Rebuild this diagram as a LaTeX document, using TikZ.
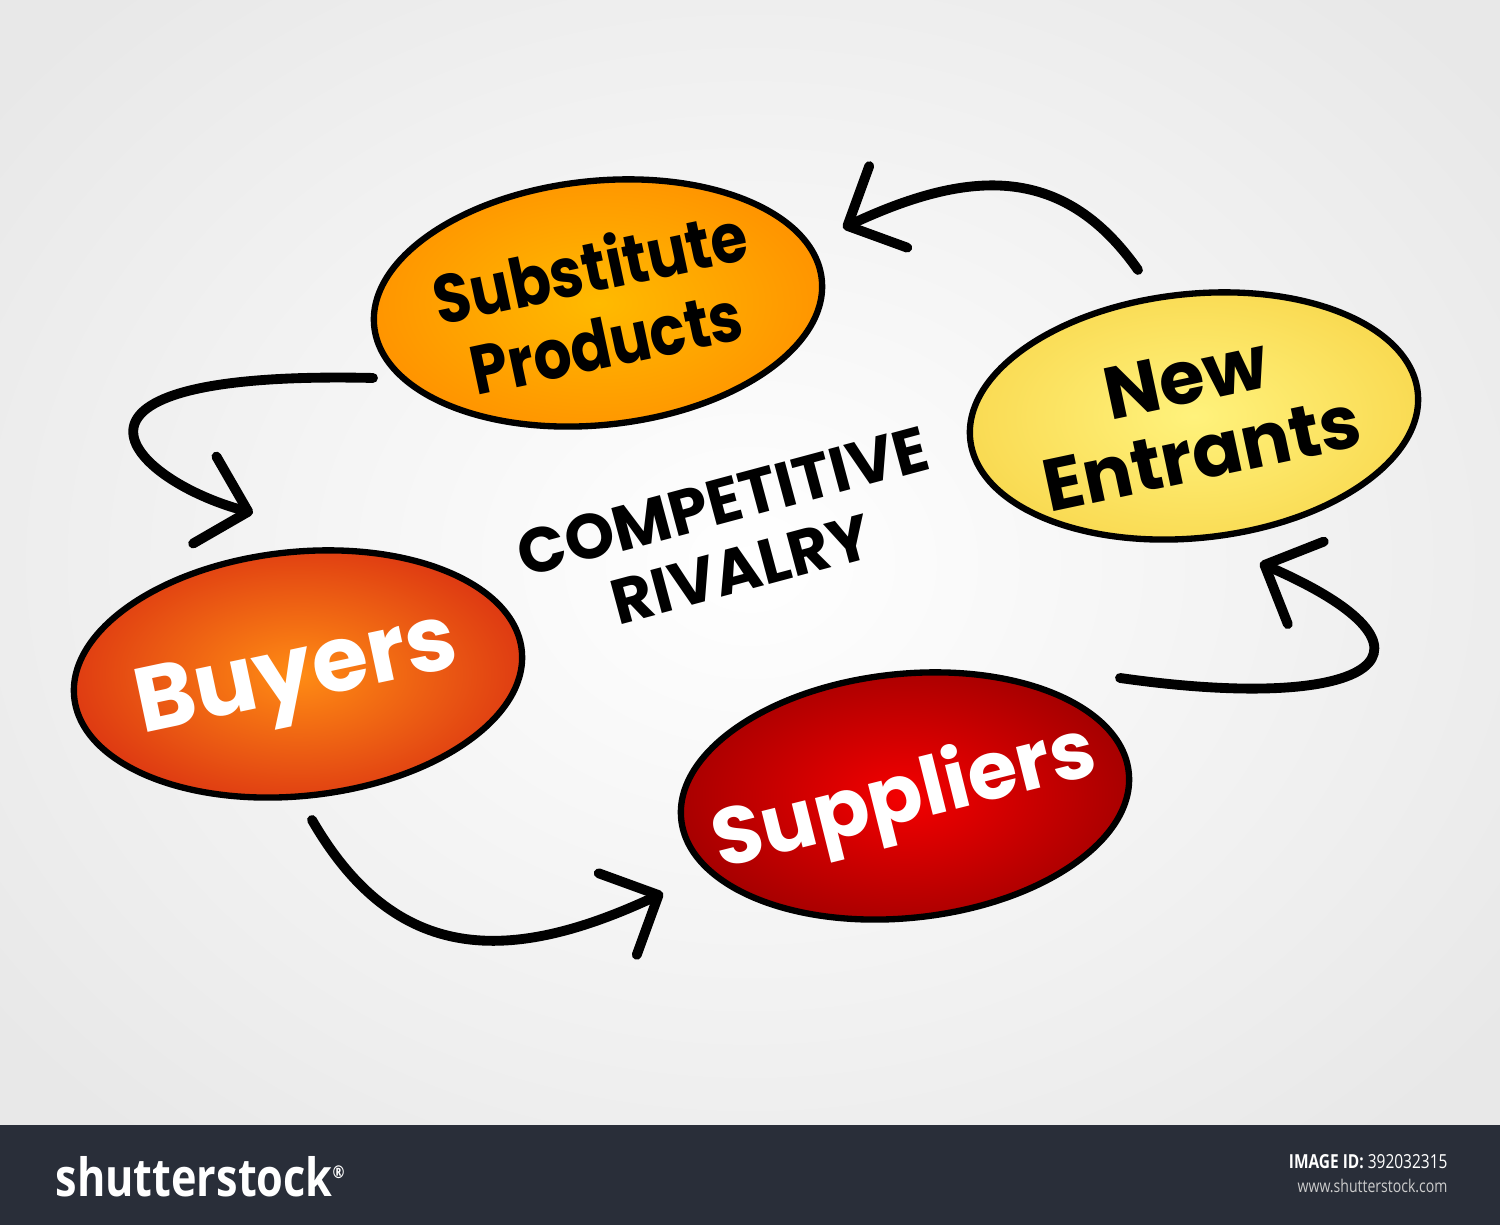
\documentclass[tikz,border=0pt]{standalone}
\usepackage{fontspec}
\setmainfont{Poppins}
\newfontfamily\opensans{Open Sans}
\usepackage{tikz}
\usetikzlibrary{shapes, arrows.meta, positioning}
\definecolor{subin}{HTML}{FFBA00}
\definecolor{subout}{HTML}{FF9400}
\definecolor{newin}{HTML}{FFF27C}
\definecolor{newout}{HTML}{F9DA52}
\definecolor{buyin}{HTML}{FF8C14}
\definecolor{buyout}{HTML}{DE3A12}
\definecolor{supin}{HTML}{F40000}
\definecolor{supout}{HTML}{A60000}
\definecolor{barbg}{HTML}{292E39}
\tikzset{
    blob/.style = {ellipse, draw, line width=1.8pt, minimum width=4.5cm, minimum height=2.44cm, rotate=6, inner sep=0pt}, % the four forces
    word/.style = {align=center, inner sep=0pt, rotate=12},
    flow/.style = {line width=2.8pt, line cap=round, -{Straight Barb[round, length=4.5mm, width=9mm]}}
}
\begin{document}
\begin{tikzpicture}
    \useasboundingbox (0,0) rectangle (15,12.25);
    \shade [inner color=white, outer color=black!9] (-2,-1) rectangle (17,14.25);
    \fill [barbg] (0,0) rectangle (15,1);

    \node [blob, inner color=subin, outer color=subout] (sub) at (5.98,9.22) {};
    \node [blob, inner color=newin, outer color=newout] (new) at (11.94,8.09) {};
    \node [blob, inner color=buyin, outer color=buyout] (buy) at (2.98,5.51) {};
    \node [blob, inner color=supin, outer color=supout] (sup) at (9.05,4.29) {};

    \node [word, font=\fontsize{17}{19}\selectfont\bfseries, yscale=1.15] (subtext) at (sub) {Substitute\\Products};
    \node [word, font=\fontsize{21}{22}\selectfont\bfseries] (newtext) at (new) {New\\Entrants};
    \node [word, font=\fontsize{26}{28}\selectfont\bfseries, text=white] (buytext) at (2.98,5.45) {Buyers};
    \node [word, font=\fontsize{23}{25}\selectfont\bfseries, text=white, rotate=2] (suptext) at (9.05,4.25) {Suppliers};
    \node [word, font=\fontsize{18}{20}\selectfont\bfseries, rotate=3] (rival) at (7.32,6.9) {COMPETITIVE\\RIVALRY};

    \draw [flow] ([shift={(-0.56,1.46)}]new.center) to[out=125, in=25, looseness=1.15] ([shift={(2.45,0.75)}]sub.center);
    \draw [flow] ([shift={(-2.25,-0.75)}]sub.center) .. controls +(-3.53,0.08) and +(-1.23,0.33) .. ([shift={(-0.45,1.61)}]buy.center);
    \draw [flow] ([shift={(0.14,-1.46)}]buy.center) to[out=-60, in=-155, looseness=1.2] ([shift={(-2.42,-0.97)}]sup.center);
    \draw [flow] ([shift={(2.15,1.18)}]sup.center) .. controls +(2.6,-0.37) and +(2.0,-0.87) .. ([shift={(0.66,-1.47)}]new.center);

    \node [font=\opensans\bfseries\fontsize{15}{15}\selectfont, text=white, anchor=base west, xscale=0.82, inner sep=0pt] (logo) at (0.55,0.28) {shutterstock\textsuperscript{\tiny\textregistered}};
    \node [font=\opensans\fontsize{5.5}{6}\selectfont, text=white, anchor=base east, xscale=0.8, inner sep=0pt] (imgid) at (14.48,0.56) {\bfseries IMAGE ID: \mdseries 392032315};
    \node [font=\opensans\fontsize{5}{6}\selectfont, text=black!20, anchor=base east, xscale=0.8, inner sep=0pt] (web) at (14.48,0.32) {www.shutterstock.com};
\end{tikzpicture}
\end{document}
